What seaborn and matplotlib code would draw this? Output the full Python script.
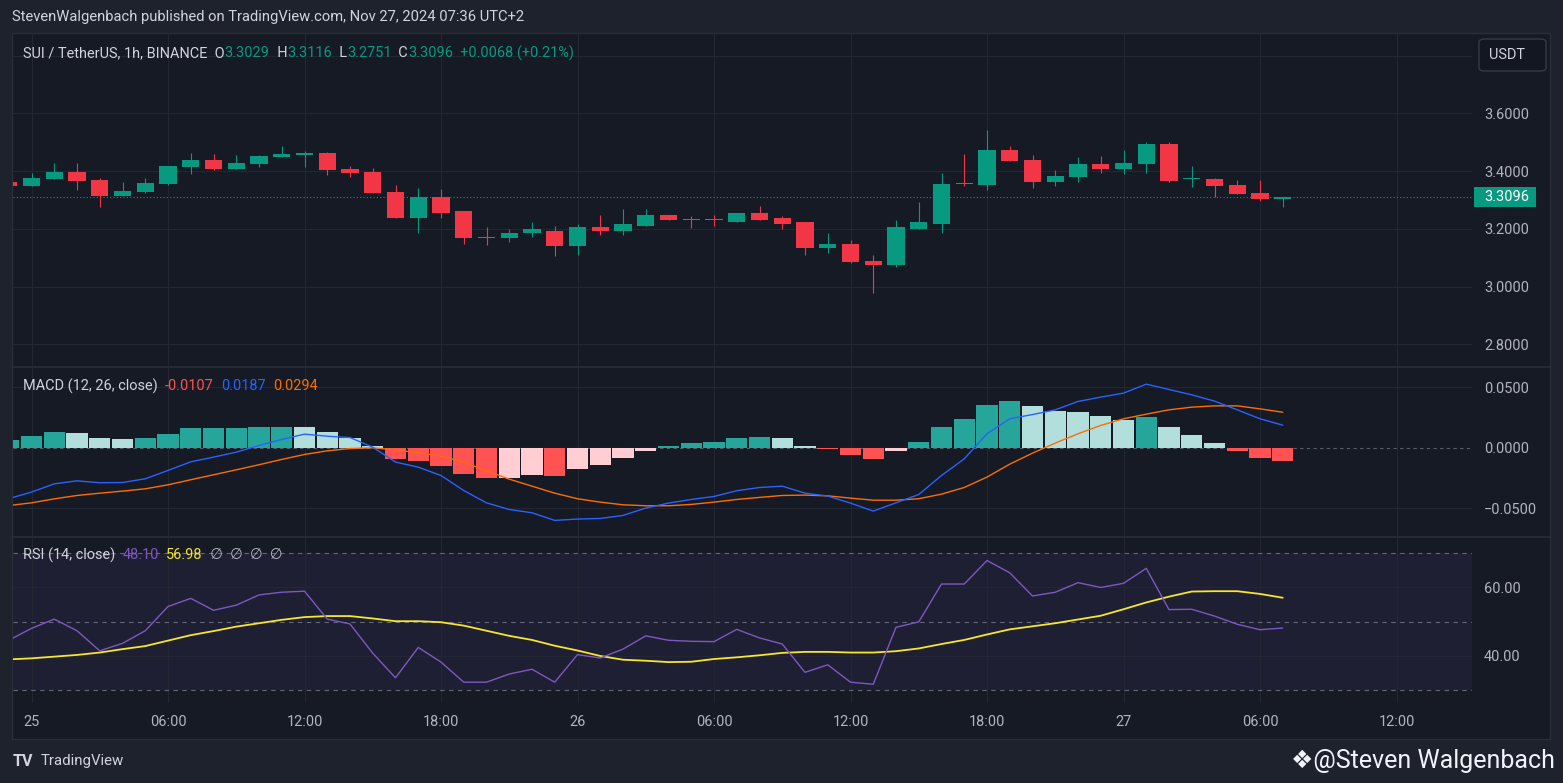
import matplotlib
matplotlib.use("Agg")
import matplotlib.pyplot as plt
from matplotlib.patches import Rectangle, FancyBboxPatch
from matplotlib.lines import Line2D
import seaborn as sns

# hourly candles, hour offset from Nov 25 00:00 (UTC+2)
hours = list(range(-1, 56))
opens = [3.363, 3.349, 3.374, 3.398, 3.370, 3.315, 3.329, 3.356, 3.415, 3.439,
         3.408, 3.425, 3.449, 3.456, 3.463, 3.408, 3.398, 3.329, 3.239, 3.311,
         3.260, 3.170, 3.167, 3.184, 3.194, 3.139, 3.208, 3.191, 3.211, 3.249,
         3.232, 3.232, 3.225, 3.256, 3.236, 3.222, 3.132, 3.149, 3.087, 3.074,
         3.201, 3.218, 3.356, 3.353, 3.474, 3.439, 3.363, 3.380, 3.425, 3.408,
         3.425, 3.494, 3.371, 3.373, 3.353, 3.325, 3.3029]
highs = [3.365, 3.394, 3.429, 3.429, 3.377, 3.363, 3.377, 3.418, 3.463, 3.460,
         3.456, 3.456, 3.487, 3.470, 3.467, 3.418, 3.411, 3.353, 3.343, 3.339,
         3.260, 3.208, 3.201, 3.225, 3.211, 3.218, 3.249, 3.267, 3.267, 3.249,
         3.243, 3.249, 3.256, 3.280, 3.243, 3.222, 3.184, 3.163, 3.111, 3.229,
         3.294, 3.394, 3.460, 3.543, 3.487, 3.456, 3.405, 3.449, 3.453, 3.474,
         3.501, 3.501, 3.418, 3.377, 3.370, 3.370, 3.3116]
lows = [3.347, 3.349, 3.374, 3.336, 3.274, 3.315, 3.325, 3.353, 3.391, 3.405,
        3.408, 3.415, 3.449, 3.415, 3.387, 3.380, 3.325, 3.239, 3.184, 3.239,
        3.149, 3.143, 3.153, 3.170, 3.105, 3.111, 3.180, 3.180, 3.211, 3.229,
        3.204, 3.211, 3.225, 3.232, 3.201, 3.108, 3.115, 3.080, 2.977, 3.067,
        3.201, 3.187, 3.350, 3.336, 3.436, 3.343, 3.349, 3.363, 3.394, 3.391,
        3.394, 3.363, 3.346, 3.309, 3.322, 3.298, 3.2751]
closes = [3.349, 3.377, 3.398, 3.367, 3.315, 3.332, 3.360, 3.418, 3.439, 3.408,
          3.429, 3.453, 3.460, 3.463, 3.405, 3.394, 3.325, 3.239, 3.311, 3.256,
          3.167, 3.168, 3.187, 3.198, 3.139, 3.208, 3.191, 3.215, 3.249, 3.229,
          3.230, 3.230, 3.256, 3.232, 3.218, 3.132, 3.149, 3.084, 3.074, 3.205,
          3.222, 3.356, 3.354, 3.474, 3.436, 3.363, 3.384, 3.425, 3.408, 3.429,
          3.494, 3.367, 3.373, 3.349, 3.322, 3.3028, 3.3096]

# MACD (12, 26, close)
macd_hist = [0.0061, 0.0096, 0.0127, 0.0125, 0.0085, 0.0069, 0.0077, 0.0118, 0.0160, 0.0161,
             0.0162, 0.0168, 0.0176, 0.0175, 0.0127, 0.0085, 0.0011, -0.0096, -0.0113, -0.0154,
             -0.0220, -0.0253, -0.0252, -0.0226, -0.0230, -0.0179, -0.0138, -0.0088, -0.0030, 0.0011,
             0.0036, 0.0052, 0.0085, 0.0086, 0.0077, 0.0019, -0.0008, -0.0061, -0.0094, -0.0028,
             0.0044, 0.0168, 0.0242, 0.0350, 0.0383, 0.0342, 0.0303, 0.0292, 0.0262, 0.0234,
             0.0251, 0.0168, 0.0102, 0.0036, -0.0030, -0.0085, -0.0107]
macd_line = [-0.0420, -0.0366, -0.0298, -0.0273, -0.0289, -0.0287, -0.0256, -0.0187, -0.0116, -0.0077,
             -0.0036, 0.0019, 0.0069, 0.0113, 0.0096, 0.0085, 0.0005, -0.0118, -0.0160, -0.0229,
             -0.0353, -0.0455, -0.0510, -0.0537, -0.0600, -0.0589, -0.0584, -0.0559, -0.0498, -0.0457,
             -0.0427, -0.0402, -0.0355, -0.0328, -0.0317, -0.0375, -0.0399, -0.0457, -0.0523, -0.0455,
             -0.0386, -0.0229, -0.0091, 0.0116, 0.0240, 0.0275, 0.0314, 0.0383, 0.0419, 0.0452,
             0.0526, 0.0482, 0.0438, 0.0386, 0.0314, 0.0240, 0.0187]
signal_line = [-0.0477, -0.0455, -0.0422, -0.0394, -0.0375, -0.0358, -0.0339, -0.0306, -0.0264, -0.0223,
               -0.0182, -0.0140, -0.0096, -0.0055, -0.0025, -0.0006, 0.0000, -0.0017, -0.0041, -0.0069,
               -0.0118, -0.0190, -0.0259, -0.0317, -0.0375, -0.0421, -0.0449, -0.0471, -0.0479, -0.0479,
               -0.0468, -0.0449, -0.0427, -0.0410, -0.0394, -0.0391, -0.0397, -0.0416, -0.0433, -0.0433,
               -0.0421, -0.0383, -0.0328, -0.0242, -0.0135, -0.0044, 0.0039, 0.0116, 0.0185, 0.0240,
               0.0278, 0.0314, 0.0336, 0.0347, 0.0347, 0.0322, 0.0294]

# RSI (14, close) and its moving average
rsi = [44.5, 48.0, 50.7, 47.3, 41.4, 43.6, 47.3, 54.4, 56.8, 53.3,
       54.8, 57.8, 58.6, 58.9, 50.7, 49.3, 40.7, 33.5, 42.4, 38.1,
       32.2, 32.2, 34.6, 36.0, 32.2, 40.3, 39.3, 41.9, 45.8, 44.5,
       44.2, 44.1, 47.7, 45.2, 43.4, 35.1, 37.3, 32.2, 31.6, 48.3,
       49.9, 61.0, 61.0, 67.9, 64.3, 57.5, 58.6, 61.4, 60.0, 61.2,
       65.6, 53.5, 53.6, 51.6, 49.2, 47.6, 48.10]
rsi_ma = [38.9, 39.2, 39.7, 40.2, 40.9, 41.9, 42.8, 44.4, 46.0, 47.2,
          48.5, 49.5, 50.5, 51.3, 51.6, 51.6, 50.9, 50.1, 50.1, 49.8,
          48.8, 47.3, 45.8, 44.6, 42.9, 41.5, 39.9, 38.8, 38.5, 38.1,
          38.2, 39.0, 39.5, 40.1, 40.8, 41.1, 41.1, 40.9, 40.9, 41.3,
          42.1, 43.4, 44.6, 46.2, 47.7, 48.6, 49.5, 50.6, 51.7, 53.6,
          55.6, 57.3, 58.8, 58.9, 58.9, 58.1, 56.98]

time_ticks = [0, 6, 12, 18, 24, 30, 36, 42, 48, 54, 60]
time_labels = ["25", "06:00", "12:00", "18:00", "26", "06:00", "12:00", "18:00", "27", "06:00", "12:00"]
price_ticks = [2.8, 3.0, 3.2, 3.4, 3.6, 3.8]

W, H = 1563, 783
OUTER = "#1e222d"
PANE = "#161a25"
GRID = "#232734"
BORDER = "#2a2e39"
TEXT = "#b2b5be"
LIGHT = "#d1d4dc"
UP, DOWN = "#089981", "#f23645"
LBL = 14.5  # label font height in px

sns.set_theme(style="dark", rc={"figure.facecolor": OUTER, "axes.facecolor": "none"})
plt.rcParams["font.family"] = ["Roboto", "DejaVu Sans"]


def fs(px):
    return px * 0.72


def box(x0, y0, x1, y1):
    return [x0 / W, 1 - y1 / H, (x1 - x0) / W, (y1 - y0) / H]


fig = plt.figure(figsize=(W / 100, H / 100), dpi=100, facecolor=OUTER)
fig.patches.append(Rectangle((12 / W, 1 - 739 / H), 1538 / W, 706 / H, transform=fig.transFigure,
                             facecolor=PANE, edgecolor=BORDER, lw=1, zorder=-5))

ax_p = fig.add_axes(box(13, 34, 1472, 366))
ax_m = fig.add_axes(box(13, 367, 1472, 536), sharex=ax_p)
ax_r = fig.add_axes(box(13, 537, 1472, 703), sharex=ax_p)

for ax in (ax_p, ax_m, ax_r):
    ax.set_facecolor("none")
    ax.patch.set_alpha(0)
    for s in ax.spines.values():
        s.set_visible(False)
    ax.set_xticks(time_ticks)
    ax.tick_params(axis="x", length=0, labelbottom=False)
    ax.tick_params(axis="y", left=False, right=False, labelleft=False, labelright=True,
                   length=0, pad=8.6, colors=TEXT, labelsize=fs(LBL))
    ax.grid(True, axis="x", color=GRID, lw=0.8)
ax_p.set_xlim((13 - 31.5) / 22.75, (1472 - 31.5) / 22.75)

# --- price pane ---
colors = [UP if c >= o else DOWN for o, c in zip(opens, closes)]
bottoms = [min(o, c) for o, c in zip(opens, closes)]
heights = [max(abs(c - o), 0.0035) for o, c in zip(opens, closes)]
ax_p.vlines(hours, lows, highs, colors=colors, lw=0.8, zorder=2)
ax_p.bar(hours, heights, bottom=bottoms, width=0.75, color=colors, lw=0, zorder=3)
ax_p.set_ylim(2.725, 3.8746)
ax_p.set_yticks(price_ticks)
ax_p.set_yticklabels([f"{v:.4f}" if v < 3.7 else "" for v in price_ticks])
ax_p.grid(True, axis="y", color=GRID, lw=0.8)
ax_p.axhline(closes[-1], color=UP, ls=(0, (1, 2)), lw=0.8, zorder=1)

# --- MACD pane ---
hcolors = []
for i, v in enumerate(macd_hist):
    rising = i == 0 or v >= macd_hist[i - 1]
    if v >= 0:
        hcolors.append("#26a69a" if rising else "#b2dfdb")
    else:
        hcolors.append("#ffcdd2" if rising else "#ff5252")
ax_m.axhline(0, color="#787b86", ls=(0, (3, 3)), lw=0.8, alpha=0.7, zorder=0)
for lvl in (-0.05, 0.05):
    ax_m.axhline(lvl, color=GRID, lw=0.8, zorder=0)
ax_m.bar(hours, macd_hist, width=0.93, color=hcolors, lw=0, zorder=1)
sns.lineplot(x=hours, y=macd_line, ax=ax_m, color="#2962ff", lw=1.0, zorder=3)
sns.lineplot(x=hours, y=signal_line, ax=ax_m, color="#ff6d00", lw=1.0, zorder=2)
ax_m.set_ylim(-0.0729, 0.0668)
ax_m.set_yticks([-0.05, 0.0, 0.05])
ax_m.set_yticklabels([f"{v:.4f}".replace("-", "\u2212") for v in (-0.05, 0.0, 0.05)])

# --- RSI pane ---
ax_r.axhspan(30, 70, color="#7e57c2", alpha=0.09, lw=0, zorder=0)
for lvl in (30, 50, 70):
    ax_r.axhline(lvl, color="#787b86", ls=(0, (4, 4)), lw=0.8, alpha=0.8, zorder=1)
ax_r.set_yticks([40, 60])
ax_r.set_yticklabels(["40.00", "60.00"])
ax_r.grid(True, axis="y", color=GRID, lw=0.8)
sns.lineplot(x=hours, y=rsi_ma, ax=ax_r, color="#f5e62f", lw=1.3, zorder=3)
sns.lineplot(x=hours, y=rsi, ax=ax_r, color="#7e57c2", lw=1.0, zorder=4)
ax_r.set_ylim(26.1, 74.8)
ax_r.tick_params(axis="x", labelbottom=True, pad=8.5, colors=TEXT, labelsize=fs(LBL))
ax_r.set_xticklabels(time_labels)
for ax in (ax_p, ax_m, ax_r):
    ax.set_xlabel("")
    ax.set_ylabel("")

# pane separators
for yy in (366.5, 536.5):
    fig.add_artist(Line2D([12 / W, 1550 / W], [1 - yy / H] * 2, color=BORDER, lw=1.2))

# last price tag and currency box
fig.patches.append(Rectangle((1474 / W, 1 - 207 / H), 62 / W, 20 / H, transform=fig.transFigure,
                             facecolor=UP, lw=0, zorder=5))
fig.text(1484 / W, 1 - 197 / H, f"{closes[-1]:.4f}", color="white", fontsize=fs(LBL),
         va="center", ha="left", zorder=6)
fig.patches.append(FancyBboxPatch((1479 / W, 1 - 71 / H), 67 / W, 32 / H, transform=fig.transFigure,
                                  boxstyle="round,pad=0,rounding_size=0.004",
                                  facecolor="#131722", edgecolor="#363a45", lw=1, zorder=5))
fig.text(1489 / W, 1 - 55 / H, "USDT", color=LIGHT, fontsize=fs(LBL), va="center", zorder=6)

renderer = fig.canvas.get_renderer()


def legend_row(x, y, parts, size=LBL):
    for s, c in parts:
        t = fig.text(x / W, 1 - y / H, s, color=c, fontsize=fs(size), va="center", ha="left")
        x += t.get_window_extent(renderer).width


chg = closes[-1] - closes[-2]
legend_row(23, 53, [("SUI / TetherUS, 1h, BINANCE  O", LIGHT), (f"{opens[-1]:.4f}", UP),
                    ("  H", LIGHT), (f"{highs[-1]:.4f}", UP),
                    ("  L", LIGHT), (f"{lows[-1]:.4f}", UP),
                    ("  C", LIGHT), (f"{closes[-1]:.4f}", UP),
                    (f"  +{chg:.4f} (+{chg / closes[-2] * 100:.2f}%)", UP)])
legend_row(23, 386, [("MACD (12, 26, close)  ", LIGHT), (f"{macd_hist[-1]:.4f}", "#ff5252"),
                     ("  ", LIGHT), (f"{macd_line[-1]:.4f}", "#2962ff"),
                     ("  ", LIGHT), (f"{signal_line[-1]:.4f}", "#ff6d00")])
legend_row(23, 555, [("RSI (14, close)  ", LIGHT), (f"{rsi[-1]:.2f}", "#7e57c2"),
                     ("  ", LIGHT), (f"{rsi_ma[-1]:.2f}", "#f5e62f"),
                     ("  \u2205  \u2205  \u2205  \u2205", TEXT)])

fig.text(12 / W, 1 - 17 / H, "StevenWalgenbach published on TradingView.com, Nov 27, 2024 07:36 UTC+2",
         color=LIGHT, fontsize=fs(14.8), va="center")
fig.text(13 / W, 1 - 761 / H, "TV", color=LIGHT, fontsize=fs(16), fontweight="bold", va="center")
fig.text(41 / W, 1 - 761 / H, "TradingView", color=LIGHT, fontsize=fs(15), va="center")
fig.text(1555 / W, 1 - 761 / H, "\u2756@Steven Walgenbach", color="#f0f3fa", fontsize=fs(25),
         va="center", ha="right")

fig.savefig("out.png", dpi=100, facecolor=OUTER)
